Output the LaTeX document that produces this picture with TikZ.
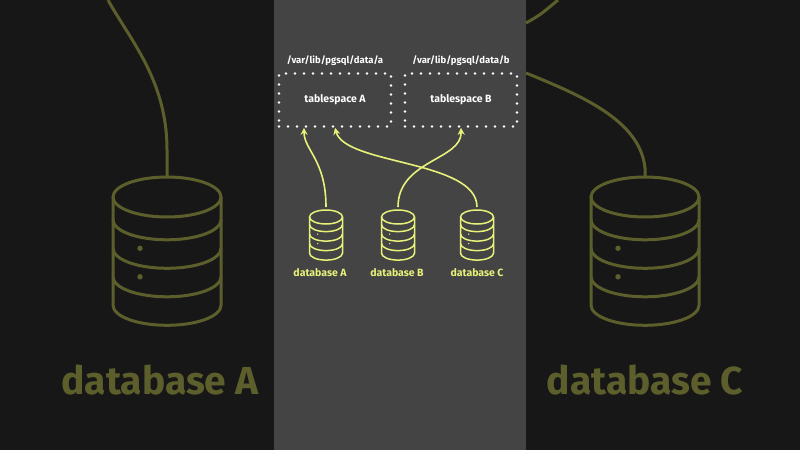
\documentclass[tikz,border=0pt]{standalone}
\usepackage{fontspec}
\setmainfont{Fira Sans}
\usetikzlibrary{arrows.meta,positioning,calc}
\definecolor{bgdark}{HTML}{171717}
\definecolor{panel}{HTML}{444444}
\definecolor{lime}{HTML}{E8F27A}
\definecolor{olive}{HTML}{5C5F2B}
% database icon: centre x, top centre y, x radius, y radius, section height, colour
\newcommand{\dbicon}[6]{%
  \begin{scope}[shift={(#1,#2)}]
    \draw[#6] (0,0) ellipse ({#3} and {#4});
    \draw[#6] (-#3,0) -- (-#3,0.8*#5+3*#5) arc[start angle=180,end angle=0,x radius=#3,y radius=#4] -- (#3,0);
    \foreach \k in {0,1,2}
      \draw[#6] (-#3,0.8*#5+\k*#5) arc[start angle=180,end angle=0,x radius=#3,y radius=#4];
    \fill[#6] (-#3*0.5,1.8*#5) circle (#3*0.05) (-#3*0.5,2.8*#5) circle (#3*0.05);
  \end{scope}}
\begin{document}
\begin{tikzpicture}[x=1pt,y=-1pt,
    tsbox/.style={draw=white, line width=2.6pt, dash pattern=on 0pt off 9pt, line cap=round,
      minimum width=112pt, minimum height=53pt, font=\bfseries\fontsize{10.5}{12}\selectfont, text=white},
    path/.style={font=\bfseries\fontsize{9.5}{11}\selectfont, text=white},
    dblabel/.style={font=\bfseries\fontsize{10.5}{12}\selectfont, text=lime},
    biglabel/.style={font=\bfseries\fontsize{39}{44}\selectfont, text=olive},
    link/.style={lime, line width=1.6pt, -{Stealth[length=7pt,width=7pt]}}
]
  \useasboundingbox (0,0) rectangle (800,450);
  \fill[bgdark] (0,0) rectangle (800,450);
  \fill[panel] (274,0) rectangle (526,450);

  % faded side decoration
  \begin{scope}[line width=3pt]
    \dbicon{167}{197}{54}{20}{28.5}{olive}
    \dbicon{645}{197}{54}{20}{28.5}{olive}
    \draw[olive] (167,177) -- (167,150) .. controls (167,80) and (130,40) .. (108,0);
    \draw[olive] (645,177) -- (645,168) .. controls (640,120) and (580,95) .. (526,73);
    \draw[olive] (526,23) .. controls (540,15) .. (558,0);
  \end{scope}
  \node[biglabel] (bigA) at (160,380) {database A};
  \node[biglabel] (bigC) at (645,380) {database C};

  % tablespaces
  \node[tsbox] (tsA) at (335,100) {tablespace A};
  \node[tsbox] (tsB) at (461,100) {tablespace B};
  \node[path, above=3pt of tsA] (pathA) {/var/lib/pgsql/data/a};
  \node[path, above=3pt of tsB] (pathB) {/var/lib/pgsql/data/b};

  % databases
  \begin{scope}[line width=1.5pt]
    \dbicon{326}{217}{16.5}{7}{9.5}{lime}
    \dbicon{398}{217}{16.5}{7}{9.5}{lime}
    \dbicon{477}{217}{16.5}{7}{9.5}{lime}
  \end{scope}
  \coordinate (dbA) at (326,207);
  \coordinate (dbB) at (398,207);
  \coordinate (dbC) at (477,207);
  \node[dblabel] (labA) at (320,273) {database A};
  \node[dblabel] (labB) at (397,273) {database B};
  \node[dblabel] (labC) at (477,273) {database C};

  \draw[link] (dbA) .. controls (326,160) and (304,150) .. ([xshift=-31pt]tsA.south);
  \draw[link] (dbC) .. controls (477,160) and (345,165) .. (tsA.south);
  \draw[link] (dbB) .. controls (398,160) and (462,160) .. (tsB.south);
\end{tikzpicture}
\end{document}
